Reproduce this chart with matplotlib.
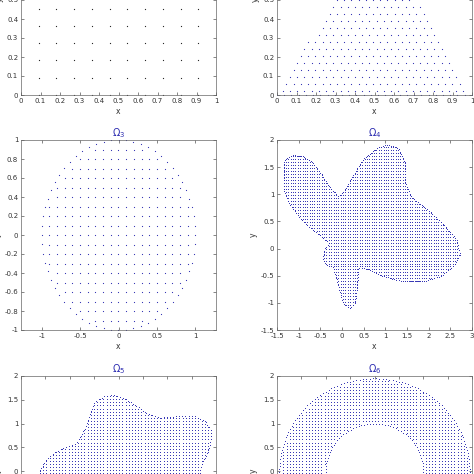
import numpy as np
import matplotlib
matplotlib.use("Agg")
import matplotlib.pyplot as plt
from matplotlib.path import Path

BLUE = "#2a2ab0"
MS = 1.4
MS2 = 1.7
# Omega_4 boundary vertices
om4_x = [-1.35,-1.3,-1.15,-0.9,-0.7,-0.5,-0.3,-0.1,0.05,0.25,0.5,0.8,1.05,1.3,1.45,1.45,1.6,2.0,2.4,2.65,2.72,2.6,2.3,1.9,1.4,0.9,0.5,0.38,0.35,0.3,0.18,0.02,-0.08,-0.15,-0.2,-0.35,-0.45,-0.4,-0.3,-0.6,-0.9,-1.2,-1.35]
om4_y = [1.55,1.65,1.72,1.7,1.6,1.4,1.15,0.97,1.05,1.35,1.65,1.85,1.92,1.85,1.6,1.25,0.95,0.7,0.4,0.15,-0.1,-0.3,-0.5,-0.6,-0.6,-0.5,-0.35,-0.35,-0.7,-1.0,-1.1,-1.0,-0.7,-0.5,-0.35,-0.3,-0.2,0.0,0.1,0.3,0.5,0.8,1.1]
# Omega_5 boundary vertices
om5_x = [-1.61,-1.51,-1.31,-1.1,-0.9,-0.79,-0.69,-0.59,-0.49,-0.28,-0.14,0.06,0.33,0.59,0.84,1.15,1.56,1.77,1.91,1.87,1.73,1.67,1.67,-1.61]
om5_y = [0.0,0.2,0.4,0.5,0.55,0.7,0.9,1.2,1.45,1.58,1.6,1.55,1.4,1.2,1.12,1.15,1.15,1.05,0.85,0.5,0.2,0.0,-2.0,-2.0]
# Omega_6 annulus radii
om6_radii = [1.0, 1.95]

def fill(poly_x, poly_y, h, nb):
    path = Path(np.column_stack([poly_x, poly_y]))
    xs = np.arange(min(poly_x), max(poly_x)+h, h)
    ys = np.arange(min(poly_y), max(poly_y)+h, h)
    X, Y = np.meshgrid(xs, ys)
    P = np.column_stack([X.ravel(), Y.ravel()])
    P = P[path.contains_points(P, radius=-h*0.3)]
    px = np.array(list(poly_x)+[poly_x[0]]); py = np.array(list(poly_y)+[poly_y[0]])
    seg = np.hypot(np.diff(px), np.diff(py)); s = np.concatenate([[0], np.cumsum(seg)])
    t = np.linspace(0, s[-1], nb, endpoint=False)
    B = np.column_stack([np.interp(t, s, px), np.interp(t, s, py)])
    return np.vstack([P, B])

fig = plt.figure(figsize=(4.74, 4.74), dpi=100)
W, H = 195/474, 190/474
lefts = [21/474, 277/474]
bottoms = [1-95/474, 1-330/474, 1-566/474]
axs = [[fig.add_axes([l, b, W, H]) for l in lefts] for b in bottoms]

def style(ax, title):
    ax.tick_params(direction="in", labelsize=5, length=2, top=True, right=True, width=0.5, pad=2,
                   colors="#555", labelcolor="#333")
    for s in ax.spines.values(): s.set_linewidth(0.5); s.set_color("#666")
    ax.set_xlabel("x", fontsize=5.5, labelpad=2, color="#333")
    ax.set_ylabel("y", fontsize=5.5, labelpad=2, color="#333")
    ax.set_title(title, color=BLUE, fontsize=7, pad=3)

lab01 = ["0","0.1","0.2","0.3","0.4","0.5","0.6","0.7","0.8","0.9","1"]
# Omega1
ax = axs[0][0]
g = np.arange(1, 11)/11
X, Y = np.meshgrid(g, g)
ax.plot(X.ravel(), Y.ravel(), '.', color='#222', ms=1.8, mew=0)
ax.plot(np.r_[0, g, 1], np.zeros(12), '.', color='#222', ms=1.8, mew=0)
ax.set_xlim(0, 1); ax.set_ylim(0, 1)
ax.set_xticks(np.round(np.arange(0, 1.01, 0.1), 1)); ax.set_xticklabels(lab01)
ax.set_yticks(np.round(np.arange(0, 1.01, 0.1), 1)); ax.set_yticklabels(lab01)
style(ax, r"$\Omega_1$")

# Omega2
ax = axs[0][1]
h = 0.037
pts = []
for j, y in enumerate(np.arange(0.02, 1.0, h)):
    off = 0 if j % 2 == 0 else h/2
    for x in np.arange(0.03+off, 1.0, h):
        if y < min(1.75*x, 1.75*(1-x), 0.95-1.5*(x-0.5)**2):
            pts.append((x, y))
pts = np.array(pts)
ax.plot(pts[:, 0], pts[:, 1], '.', color=BLUE, ms=MS2, mew=0)
bx = np.arange(0, 1.01, h)
ax.plot(bx, np.zeros(len(bx)), '.', color=BLUE, ms=MS2, mew=0)
ax.set_xlim(0, 1); ax.set_ylim(0, 1)
ax.set_xticks(np.round(np.arange(0, 1.01, 0.1), 1)); ax.set_xticklabels(lab01)
ax.set_yticks(np.round(np.arange(0, 1.01, 0.1), 1)); ax.set_yticklabels(lab01)
style(ax, r"$\Omega_2$")

# Omega3
ax = axs[1][0]
g = np.arange(-0.9, 0.91, 0.1)
X, Y = np.meshgrid(g, g)
m = X**2 + Y**2 < 0.93
ax.plot(X[m], Y[m], '.', color=BLUE, ms=MS2, mew=0)
th = np.linspace(0, 2*np.pi, 64, endpoint=False)
ax.plot(np.cos(th), np.sin(th), '.', color=BLUE, ms=MS2, mew=0)
ax.set_xlim(-1.27, 1.27); ax.set_ylim(-1, 1)
ax.set_xticks([-1, -0.5, 0, 0.5, 1]); ax.set_xticklabels(["-1","-0.5","0","0.5","1"])
ax.set_yticks(np.round(np.arange(-1, 1.01, 0.2), 1)); ax.set_yticklabels(["-1","-0.8","-0.6","-0.4","-0.2","0","0.2","0.4","0.6","0.8","1"])
style(ax, r"$\Omega_3$")

ticks_lab = lambda v: [("%g" % t) for t in v]

# Omega4
ax = axs[1][1]
P = fill(om4_x, om4_y, 0.055, 260)
ax.plot(P[:, 0], P[:, 1], '.', color=BLUE, ms=MS, mew=0)
ax.set_xlim(-1.5, 3); ax.set_ylim(-1.5, 2)
v = np.arange(-1.5, 3.01, 0.5); ax.set_xticks(v); ax.set_xticklabels(ticks_lab(v))
v = np.arange(-1.5, 2.01, 0.5); ax.set_yticks(v); ax.set_yticklabels(ticks_lab(v))
style(ax, r"$\Omega_4$")

# Omega5
ax = axs[2][0]
P = fill(om5_x, om5_y, 0.065, 200)
ax.plot(P[:, 0], P[:, 1], '.', color=BLUE, ms=MS, mew=0)
ax.set_xlim(-2, 2); ax.set_ylim(-2, 2)
v = np.arange(-2, 2.01, 0.5); ax.set_yticks(v); ax.set_yticklabels(ticks_lab(v))
style(ax, r"$\Omega_5$")

# Omega6
ax = axs[2][1]
r_in, r_out = om6_radii
h = 0.065
g = np.arange(-2, 2.01, h)
X, Y = np.meshgrid(g, g)
R = np.hypot(X, Y)
m = (R > r_in+0.03) & (R < r_out-0.03) & (Y > -1.5)
ax.plot(X[m], Y[m], '.', color=BLUE, ms=MS, mew=0)
th = np.linspace(-0.5, np.pi+0.5, 120)
ax.plot(r_out*np.cos(th), r_out*np.sin(th), '.', color=BLUE, ms=MS, mew=0)
th = np.linspace(-0.5, np.pi+0.5, 70)
ax.plot(r_in*np.cos(th), r_in*np.sin(th), '.', color=BLUE, ms=MS, mew=0)
ax.set_xlim(-2, 2); ax.set_ylim(-2, 2)
v = np.arange(-2, 2.01, 0.5); ax.set_yticks(v); ax.set_yticklabels(ticks_lab(v))
style(ax, r"$\Omega_6$")

fig.savefig("out.png", dpi=100)
